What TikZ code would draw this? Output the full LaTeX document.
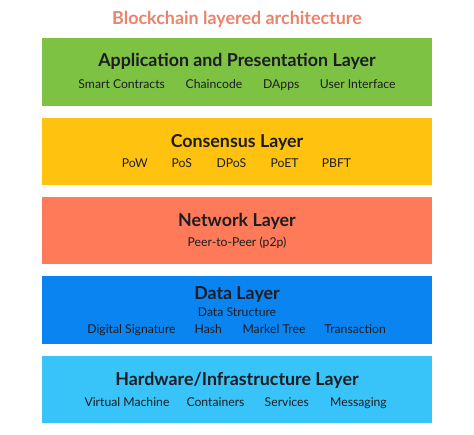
\documentclass[tikz,border=0pt]{standalone}
\usepackage{fontspec}
\setmainfont{Lato}
\usetikzlibrary{positioning}
\definecolor{titlec}{HTML}{E9846C}
\definecolor{appc}{HTML}{7DC242}
\definecolor{conc}{HTML}{FFC20E}
\definecolor{netc}{HTML}{FF7A59}
\definecolor{datac}{HTML}{0A84F0}
\definecolor{hwc}{HTML}{38C4F8}
\definecolor{txtc}{HTML}{1C1C22}
\tikzset{
  layerbox/.style={draw=none, fill=#1, minimum width=390pt, minimum height=67.5pt, inner sep=0pt, anchor=north west},
  fixedtext/.style={inner sep=0pt, text height=0.98em, text depth=0pt},
  layertitle/.style={fixedtext, text=txtc, font=\fontsize{17.8}{20}\selectfont\bfseries},
  item/.style={fixedtext, text=txtc, font=\fontsize{12.2}{14}\selectfont},
}
\begin{document}
\begin{tikzpicture}[x=1pt,y=-1pt]
\useasboundingbox (0,0) rectangle (474,434);
\fill[white] (0,0) rectangle (474,434);
\node[fixedtext, text=titlec, font=\fontsize{17.9}{20}\selectfont\bfseries] (title) at (237,20) {Blockchain layered architecture};

\node[layerbox=appc] (app) at (42,38) {};
\node[layerbox=conc] (con) at (42,117.5) {};
\node[layerbox=netc] (net) at (42,196.7) {};
\node[layerbox=datac] (dat) at (42,276) {};
\node[layerbox=hwc] (hw) at (42,355.7) {};

\node[layertitle] (appt) at (237,61.7) {Application and Presentation Layer};
\node[item] (a1) at (121.7,83.3) {Smart Contracts};
\node[item] (a2) at (214,83.3) {Chaincode};
\node[item] (a3) at (281.3,83.3) {DApps};
\node[item] (a4) at (357.7,83.3) {User Interface};

\node[layertitle] (cont) at (237,142.7) {Consensus Layer};
\node[item] (c1) at (134.7,162.3) {PoW};
\node[item] (c2) at (181.7,162.3) {PoS};
\node[item] (c3) at (231.5,162.3) {DPoS};
\node[item] (c4) at (284.5,162.3) {PoET};
\node[item] (c5) at (336.5,162.3) {PBFT};

\node[layertitle] (nett) at (237,221.7) {Network Layer};
\node[item] (n1) at (237,241.7) {Peer-to-Peer (p2p)};

\node[layertitle] (datt) at (237,294.3) {Data Layer};
\node[item] (d0) at (237,312) {Data Structure};
\node[item] (d1) at (131.5,328.7) {Digital Signature};
\node[item] (d2) at (208.3,328.7) {Hash};
\node[item] (d3) at (274,328.7) {Markel Tree};
\node[item] (d4) at (355.2,328.7) {Transaction};

\node[layertitle] (hwt) at (237,380.7) {Hardware/Infrastructure Layer};
\node[item] (h1) at (127,401.3) {Virtual Machine};
\node[item] (h2) at (215.5,401.3) {Containers};
\node[item] (h3) at (286.8,401.3) {Services};
\node[item] (h4) at (358.5,401.3) {Messaging};
\end{tikzpicture}
\end{document}
